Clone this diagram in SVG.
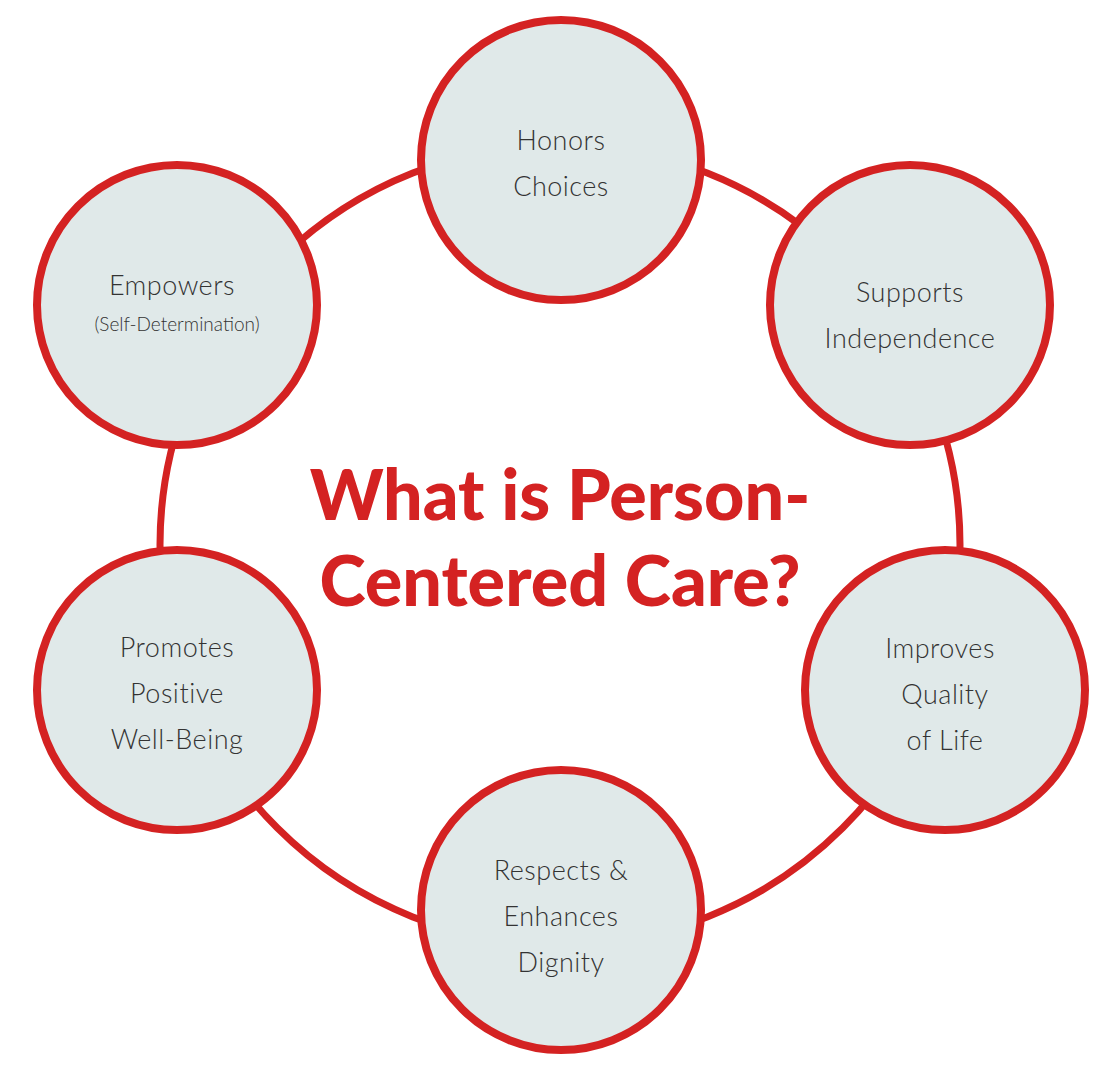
<svg xmlns="http://www.w3.org/2000/svg" width="1101" height="1077" viewBox="0 0 1101 1077">
<style>
.n{fill:#E0E9E9;stroke:#D42222;stroke-width:8}
.t{font-family:"Lato","Noto Sans",sans-serif;font-weight:300;font-size:27px;fill:#333;text-anchor:middle;letter-spacing:0.5px}
.s{font-size:19px;letter-spacing:0}
.h{font-family:"Lato","Open Sans",sans-serif;font-weight:900;font-size:70px;fill:#D42222;text-anchor:middle}
</style>
<rect width="1101" height="1077" fill="#fff"/>
<g id="connectors"><circle cx="560" cy="545" r="400" fill="none" stroke="#D42222" stroke-width="7"/></g>
<g id="honors"><circle class="n" cx="561" cy="160" r="140"/><text class="t" x="561" y="150">Honors</text><text class="t" x="561" y="196">Choices</text></g>
<g id="supports"><circle class="n" cx="910" cy="305" r="140"/><text class="t" x="910" y="302">Supports</text><text class="t" x="910" y="348">Independence</text></g>
<g id="improves"><circle class="n" cx="945" cy="690" r="140"/><text class="t" x="940" y="658">Improves</text><text class="t" x="945" y="704">Quality</text><text class="t" x="945" y="750">of Life</text></g>
<g id="respects"><circle class="n" cx="561" cy="910" r="140"/><text class="t" x="561" y="880">Respects &amp;</text><text class="t" x="561" y="926">Enhances</text><text class="t" x="561" y="972">Dignity</text></g>
<g id="promotes"><circle class="n" cx="177" cy="690" r="140"/><text class="t" x="177" y="657">Promotes</text><text class="t" x="177" y="703">Positive</text><text class="t" x="177" y="749">Well-Being</text></g>
<g id="empowers"><circle class="n" cx="177" cy="305" r="140"/><text class="t" x="172" y="295">Empowers</text><text class="t s" x="177" y="331">(Self-Determination)</text></g>
<g id="title"><text class="h" x="560" y="520">What is Person-</text><text class="h" x="560" y="606">Centered Care?</text></g>
</svg>
